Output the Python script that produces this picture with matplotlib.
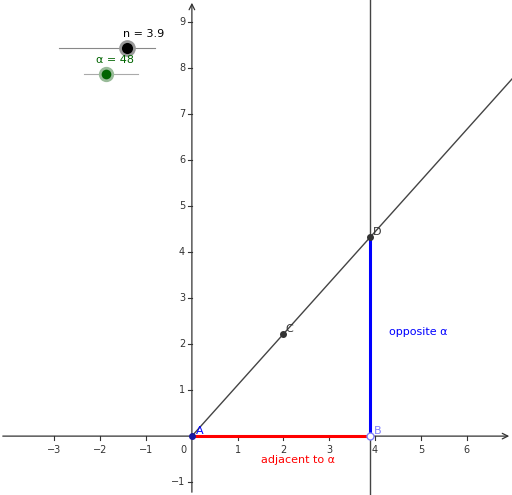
import matplotlib.pyplot as plt
import numpy as np

n = 3.9
alpha_deg = 48
x_ticks = [-3, -2, -1, 1, 2, 3, 4, 5, 6]
y_ticks = [-1, 1, 2, 3, 4, 5, 6, 7, 8, 9]
slope = np.tan(np.radians(alpha_deg))

fig = plt.figure(figsize=(5.12, 4.95), dpi=100)
ax = fig.add_axes([0, 0, 1, 1])
ax.set_xlim(-4.19, 6.99)
ax.set_ylim(-1.28, 9.48)
ax.axis('off')

# axes
ax.annotate('', xy=(6.99, 0), xytext=(-4.19, 0),
            arrowprops=dict(arrowstyle='->', color='#333333', lw=0.9))
ax.annotate('', xy=(0, 9.48), xytext=(0, -1.28),
            arrowprops=dict(arrowstyle='->', color='#333333', lw=0.9))
for t in x_ticks:
    ax.plot([t, t], [0, -0.08], color='#333333', lw=0.8)
    ax.text(t, -0.2, f'{t}' if t >= 0 else f'\u2212{-t}', ha='center', va='top', fontsize=7, color='#333333')
for t in y_ticks:
    ax.plot([0, -0.08], [t, t], color='#333333', lw=0.8)
    ax.text(-0.15, t, f'{t}' if t >= 0 else f'\u2212{-t}', ha='right', va='center', fontsize=7, color='#333333')
ax.text(-0.12, -0.2, '0', ha='right', va='top', fontsize=7, color='#333333')

# line and vertical
xs = np.array([0, 7])
ax.plot(xs, slope * xs, color='#444444', lw=1)
ax.axvline(n, color='#444444', lw=1)

D = (n, slope * n)
C = (2, slope * 2)
ax.plot([0, n], [0, 0], color='red', lw=2.2, zorder=5)
ax.plot([n, n], [0, D[1]], color='blue', lw=2.2, zorder=5)

ax.plot(*D, 'o', color='#333333', ms=4, zorder=6)
ax.plot(*C, 'o', color='#333333', ms=4, zorder=6)
ax.plot(0, 0, 'o', color='#1a1aa0', ms=4, zorder=6)
ax.plot(n, 0, 'o', mfc='white', mec='#8080ff', ms=5, zorder=6)
ax.text(D[0] + 0.05, D[1] + 0.05, 'D', fontsize=8, color='#333333')
ax.text(C[0] + 0.05, C[1] + 0.05, 'C', fontsize=8, color='#333333')
ax.text(0.08, 0.05, 'A', fontsize=8, color='blue')
ax.text(n + 0.08, 0.05, 'B', fontsize=8, color='#8080ff')
ax.text(4.3, 2.2, 'opposite \u03b1', fontsize=8, color='blue')
ax.text(1.5, -0.52, 'adjacent to \u03b1', fontsize=8, color='red', va='center')

# sliders
ax.plot([-2.9, -0.8], [8.43, 8.43], color='#888888', lw=0.8)
ax.plot(-1.42, 8.43, 'o', color='black', ms=10, mec='#999999', mew=2)
ax.text(-1.5, 8.68, 'n = 3.9', fontsize=8, color='black')
ax.plot([-2.35, -1.18], [7.87, 7.87], color='#aaaaaa', lw=0.8)
ax.plot(-1.88, 7.87, 'o', color='#006400', ms=9, mec='#99bb99', mew=2)
ax.text(-2.1, 8.1, '\u03b1 = 48', fontsize=8, color='#006400')

fig.savefig('out.png', dpi=100, facecolor='white')
